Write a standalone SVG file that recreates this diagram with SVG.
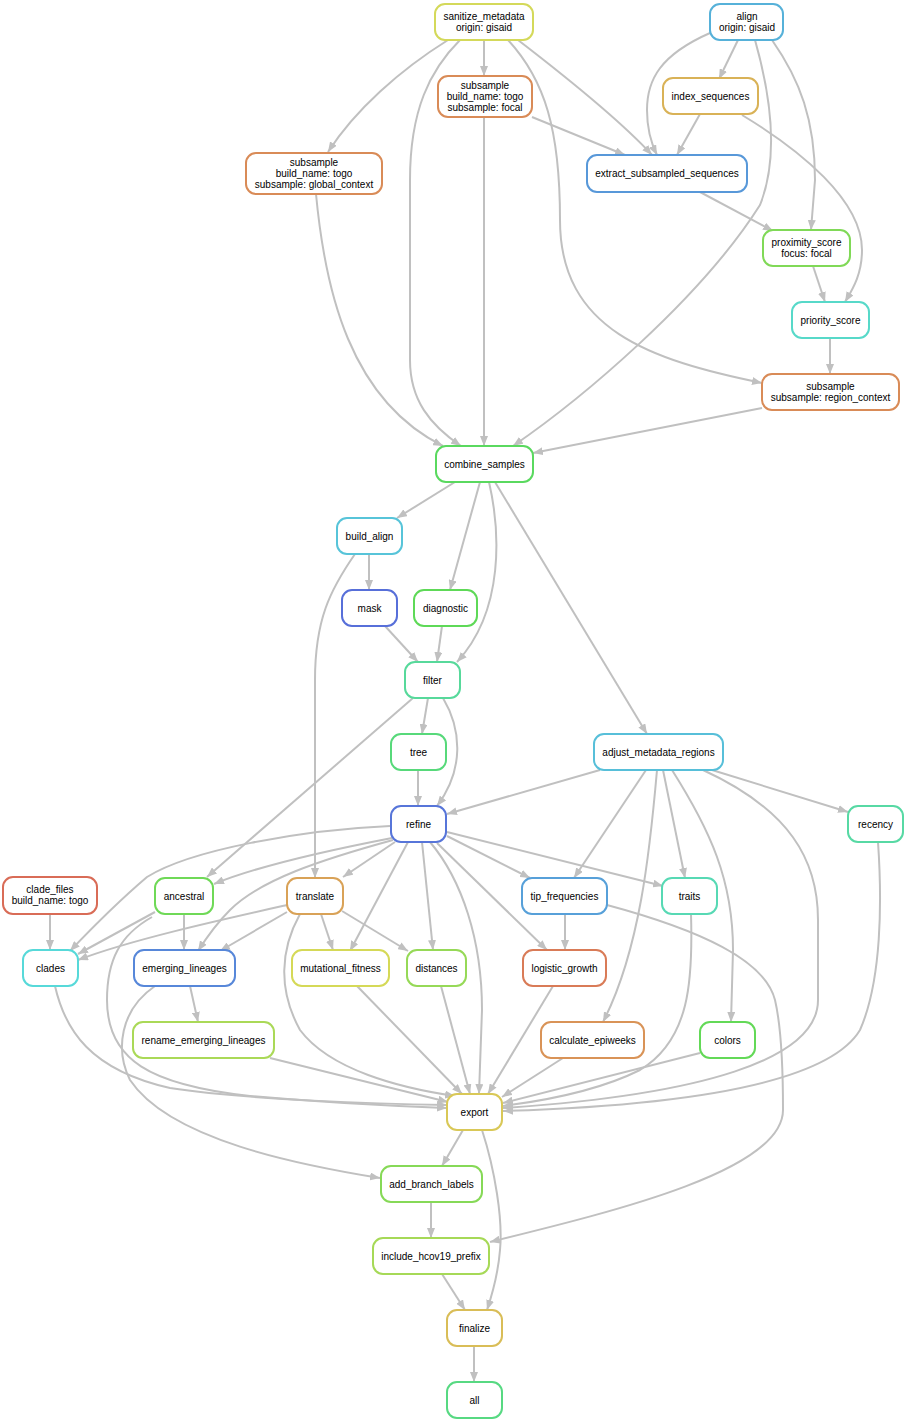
<svg xmlns="http://www.w3.org/2000/svg" width="907" height="1422" viewBox="0 0 907 1422">
<style>
.n rect{fill:#fff;stroke-width:2}
.n text{font-family:"Liberation Sans",Arial,sans-serif;font-size:10px;fill:#000;text-anchor:middle}
.e path{fill:none;stroke:#c0c0c0;stroke-width:2;marker-end:url(#ah)}
</style>
<defs>
<marker id="ah" viewBox="0 0 10 8" refX="10" refY="4" markerWidth="10" markerHeight="8" markerUnits="userSpaceOnUse" orient="auto"><path d="M0,0 L10,4 L0,8 z" fill="#c0c0c0"/></marker>
</defs>
<rect width="907" height="1422" fill="#fff"/>
<g id="edges" class="e">
<path d="M448,40 C400,70 355,110 328,152"/>
<path d="M484,40 L484,76"/>
<path d="M460,40 C430,70 410,110 410,180 L410,360 C410,400 430,425 461,446"/>
<path d="M518,40 C570,80 620,120 652,155"/>
<path d="M508,40 C545,80 560,130 560,220 C560,330 650,360 762,383"/>
<path d="M738,40 L719,79"/>
<path d="M710,33 C660,55 647,80 647,110 C647,130 652,145 657,155"/>
<path d="M755,40 C772,100 778,160 760,205 C700,300 580,400 513,446"/>
<path d="M772,40 C800,80 815,120 815,180 L811,230"/>
<path d="M484,117 L484,446"/>
<path d="M532,117 L625,155"/>
<path d="M700,114 L677,155"/>
<path d="M742,115 C800,150 862,200 862,250 C862,275 852,290 845,302"/>
<path d="M316,194 C325,290 350,400 443,446"/>
<path d="M700,192 L773,231"/>
<path d="M813,266 L825,302"/>
<path d="M830,338 L830,374"/>
<path d="M762,408 L533,453"/>
<path d="M455,482 L397,518"/>
<path d="M480,482 L450,590"/>
<path d="M489,482 C500,530 505,610 457,662"/>
<path d="M495,482 L647,734"/>
<path d="M369,554 L369,590"/>
<path d="M355,554 C330,590 315,620 315,680 L315,878"/>
<path d="M385,626 L418,662"/>
<path d="M442,626 L437,662"/>
<path d="M428,698 L422,734"/>
<path d="M443,698 C462,730 464,770 437,806"/>
<path d="M413,698 L207,877"/>
<path d="M418,770 L418,806"/>
<path d="M600,770 L447,814"/>
<path d="M646,770 L574,878"/>
<path d="M657,770 C650,850 640,950 603,1022"/>
<path d="M663,770 L685,878"/>
<path d="M672,770 C710,830 733,880 733,950 L731,1022"/>
<path d="M703,770 C790,810 818,860 818,920 L818,1000 C818,1060 700,1095 503,1108"/>
<path d="M712,770 L848,812"/>
<path d="M878,842 C882,900 882,980 860,1030 C830,1080 700,1105 503,1111"/>
<path d="M390,826 C300,830 190,850 147,877 C120,900 90,930 70,951"/>
<path d="M392,838 C330,850 260,865 214,884"/>
<path d="M393,840 C320,860 260,880 230,910 C215,925 205,940 198,951"/>
<path d="M395,842 L343,877"/>
<path d="M408,842 L350,951"/>
<path d="M422,842 L433,950"/>
<path d="M430,842 C462,880 482,940 482,1010 L479,1094"/>
<path d="M437,843 L547,950"/>
<path d="M447,836 L530,878"/>
<path d="M447,832 L663,886"/>
<path d="M50,914 L50,950"/>
<path d="M155,912 L78,954"/>
<path d="M184,914 L184,950"/>
<path d="M152,917 C120,935 107,960 107,1000 C107,1060 150,1085 250,1096 C350,1105 420,1107 447,1108"/>
<path d="M287,905 C220,920 130,940 78,960"/>
<path d="M287,912 L220,951"/>
<path d="M321,914 L333,950"/>
<path d="M342,911 L408,951"/>
<path d="M300,914 C280,950 278,990 300,1030 C330,1070 400,1088 455,1096"/>
<path d="M565,914 L565,950"/>
<path d="M607,905 C700,930 765,960 775,1000 C782,1030 783,1080 783,1110 C783,1170 620,1210 490,1242"/>
<path d="M190,986 L198,1022"/>
<path d="M155,986 C120,1010 115,1050 130,1080 C170,1140 300,1165 380,1178"/>
<path d="M55,986 C65,1030 90,1070 170,1088 C250,1100 380,1104 447,1105"/>
<path d="M270,1058 L448,1102"/>
<path d="M357,986 L462,1094"/>
<path d="M441,986 L470,1094"/>
<path d="M553,986 L488,1094"/>
<path d="M563,1058 L502,1097"/>
<path d="M700,1053 L503,1103"/>
<path d="M691,914 C693,980 690,1040 640,1070 C600,1090 550,1100 503,1106"/>
<path d="M463,1130 L442,1166"/>
<path d="M482,1130 C495,1170 503,1220 500,1250 C498,1275 492,1295 487,1310"/>
<path d="M431,1202 L431,1238"/>
<path d="M442,1274 L465,1310"/>
<path d="M474,1346 L474,1382"/>
</g>
<g id="sanitize_metadata" class="n"><rect x="435" y="4" width="98" height="36" rx="10" stroke="#d4d95a"/><text x="484" y="19.5">sanitize_metadata</text><text x="484" y="30.5">origin: gisaid</text></g>
<g id="align" class="n"><rect x="710" y="4" width="73" height="36" rx="10" stroke="#56b1d9"/><text x="747" y="19.5">align</text><text x="747" y="30.5">origin: gisaid</text></g>
<g id="subsample_focal" class="n"><rect x="438" y="76" width="94" height="41" rx="10" stroke="#d98b57"/><text x="485" y="88.5">subsample</text><text x="485" y="99.5">build_name: togo</text><text x="485" y="110.5">subsample: focal</text></g>
<g id="index_sequences" class="n"><rect x="663" y="78" width="95" height="36" rx="10" stroke="#d9b257"/><text x="710.5" y="99.5">index_sequences</text></g>
<g id="subsample_global_context" class="n"><rect x="246" y="153" width="136" height="41" rx="10" stroke="#d98b57"/><text x="314" y="165.5">subsample</text><text x="314" y="176.5">build_name: togo</text><text x="314" y="187.5">subsample: global_context</text></g>
<g id="extract_subsampled_sequences" class="n"><rect x="587" y="155" width="160" height="37" rx="10" stroke="#5898d9"/><text x="667" y="176.5">extract_subsampled_sequences</text></g>
<g id="proximity_score" class="n"><rect x="763" y="230" width="87" height="36" rx="10" stroke="#80d957"/><text x="806.5" y="245.5">proximity_score</text><text x="806.5" y="256.5">focus: focal</text></g>
<g id="priority_score" class="n"><rect x="792" y="302" width="77" height="36" rx="10" stroke="#57d9c9"/><text x="830.5" y="323.5">priority_score</text></g>
<g id="subsample_region_context" class="n"><rect x="762" y="374" width="137" height="36" rx="10" stroke="#d98b57"/><text x="830.5" y="389.5">subsample</text><text x="830.5" y="400.5">subsample: region_context</text></g>
<g id="combine_samples" class="n"><rect x="436" y="446" width="97" height="36" rx="10" stroke="#5ad95f"/><text x="484.5" y="467.5">combine_samples</text></g>
<g id="build_align" class="n"><rect x="337" y="518" width="65" height="36" rx="10" stroke="#57c4d9"/><text x="369.5" y="539.5">build_align</text></g>
<g id="mask" class="n"><rect x="342" y="590" width="55" height="36" rx="10" stroke="#576fd9"/><text x="369.5" y="611.5">mask</text></g>
<g id="diagnostic" class="n"><rect x="414" y="590" width="63" height="36" rx="10" stroke="#5ed957"/><text x="445.5" y="611.5">diagnostic</text></g>
<g id="filter" class="n"><rect x="405" y="662" width="55" height="36" rx="10" stroke="#57d99b"/><text x="432.5" y="683.5">filter</text></g>
<g id="tree" class="n"><rect x="391" y="734" width="55" height="36" rx="10" stroke="#57d97a"/><text x="418.5" y="755.5">tree</text></g>
<g id="adjust_metadata_regions" class="n"><rect x="594" y="734" width="129" height="36" rx="10" stroke="#57bfd9"/><text x="658.5" y="755.5">adjust_metadata_regions</text></g>
<g id="refine" class="n"><rect x="391" y="806" width="55" height="36" rx="10" stroke="#5775d9"/><text x="418.5" y="827.5">refine</text></g>
<g id="recency" class="n"><rect x="848" y="806" width="55" height="36" rx="10" stroke="#57d9a4"/><text x="875.5" y="827.5">recency</text></g>
<g id="clade_files" class="n"><rect x="3" y="877" width="94" height="37" rx="10" stroke="#d96c57"/><text x="50" y="893">clade_files</text><text x="50" y="904">build_name: togo</text></g>
<g id="ancestral" class="n"><rect x="155" y="878" width="58" height="36" rx="10" stroke="#6fd957"/><text x="184" y="899.5">ancestral</text></g>
<g id="translate" class="n"><rect x="287" y="878" width="56" height="36" rx="10" stroke="#d9a257"/><text x="315" y="899.5">translate</text></g>
<g id="tip_frequencies" class="n"><rect x="522" y="878" width="85" height="36" rx="10" stroke="#57a0d9"/><text x="564.5" y="899.5">tip_frequencies</text></g>
<g id="traits" class="n"><rect x="662" y="878" width="55" height="36" rx="10" stroke="#57d9b4"/><text x="689.5" y="899.5">traits</text></g>
<g id="clades" class="n"><rect x="23" y="950" width="55" height="36" rx="10" stroke="#57d9d9"/><text x="50.5" y="971.5">clades</text></g>
<g id="emerging_lineages" class="n"><rect x="134" y="950" width="101" height="36" rx="10" stroke="#5787d9"/><text x="184.5" y="971.5">emerging_lineages</text></g>
<g id="mutational_fitness" class="n"><rect x="292" y="950" width="97" height="36" rx="10" stroke="#d5d957"/><text x="340.5" y="971.5">mutational_fitness</text></g>
<g id="distances" class="n"><rect x="407" y="950" width="59" height="36" rx="10" stroke="#96d957"/><text x="436.5" y="971.5">distances</text></g>
<g id="logistic_growth" class="n"><rect x="523" y="950" width="83" height="36" rx="10" stroke="#d97b57"/><text x="564.5" y="971.5">logistic_growth</text></g>
<g id="rename_emerging_lineages" class="n"><rect x="133" y="1022" width="141" height="36" rx="10" stroke="#aad957"/><text x="203.5" y="1043.5">rename_emerging_lineages</text></g>
<g id="calculate_epiweeks" class="n"><rect x="541" y="1022" width="103" height="36" rx="10" stroke="#d99357"/><text x="592.5" y="1043.5">calculate_epiweeks</text></g>
<g id="colors" class="n"><rect x="700" y="1022" width="55" height="36" rx="10" stroke="#63d957"/><text x="727.5" y="1043.5">colors</text></g>
<g id="export" class="n"><rect x="447" y="1094" width="55" height="36" rx="10" stroke="#d9c857"/><text x="474.5" y="1115.5">export</text></g>
<g id="add_branch_labels" class="n"><rect x="381" y="1166" width="101" height="36" rx="10" stroke="#86d957"/><text x="431.5" y="1187.5">add_branch_labels</text></g>
<g id="include_hcov19_prefix" class="n"><rect x="373" y="1238" width="116" height="36" rx="10" stroke="#a6d957"/><text x="431" y="1259.5">include_hcov19_prefix</text></g>
<g id="finalize" class="n"><rect x="447" y="1310" width="55" height="36" rx="10" stroke="#d9bd57"/><text x="474.5" y="1331.5">finalize</text></g>
<g id="all" class="n"><rect x="447" y="1382" width="55" height="36" rx="10" stroke="#57d982"/><text x="474.5" y="1403.5">all</text></g>
</svg>
